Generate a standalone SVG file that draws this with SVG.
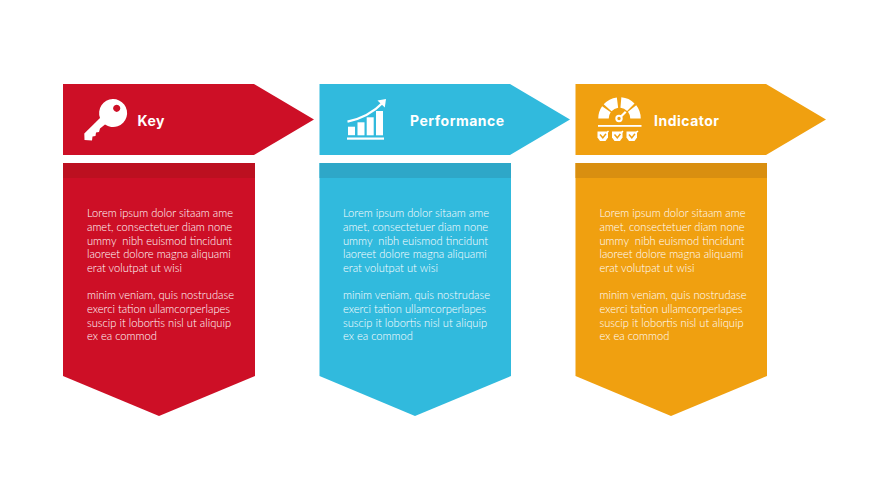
<svg xmlns="http://www.w3.org/2000/svg" width="889" height="500" viewBox="0 0 889 500">
<style>
.t{font-family:"Inter","Open Sans","Liberation Sans",sans-serif;font-weight:700;font-size:14px;letter-spacing:.5px;fill:#fff}
.b{font-family:"Lato","Open Sans","Liberation Sans",sans-serif;font-weight:300;font-size:11.15px;fill:#fff;white-space:pre}
.i{fill:#fff}
.s{fill:none;stroke:#fff}
.c{fill:none;stroke:#f0a010;stroke-width:1.4}
</style>
<rect width="889" height="500" fill="#fff"/>
<g id="node-key">
<path d="M63 84H254L314 119.500L254 155H63Z" fill="#cd0f26"/>
<path d="M63 163H255V376L159 416L63 376Z" fill="#cd0f26"/>
<rect x="63" y="163" width="192" height="15" fill="#bc1020"/>
<path class="i" fill-rule="evenodd" d="M100 118L84.300 133.500L84.500 140L92 140.500L92.500 136.500L95.500 136L96 132.500L99 132L100 128.500L105 124.500A14 14 0 1 0 100 118ZM116.700 104.700A3.600 3.600 0 1 1 116.699 104.700Z"/>
<text class="t" x="137.500" y="126">Key</text>
<text class="b" x="87" y="217">Lorem ipsum dolor sitaam ame</text>
<text class="b" x="87" y="231">amet, consectetuer diam none</text>
<text class="b" x="87" y="244.500">ummy  nibh euismod tincidunt</text>
<text class="b" x="87" y="258">laoreet dolore magna aliquami</text>
<text class="b" x="87" y="272">erat volutpat ut wisi</text>
<text class="b" x="87" y="299">minim veniam, quis nostrudase</text>
<text class="b" x="87" y="313">exerci tation ullamcorperlapes</text>
<text class="b" x="87" y="326.500">suscip it lobortis nisl ut aliquip</text>
<text class="b" x="87" y="340">ex ea commod</text>
</g>
<g id="node-performance">
<path d="M319.500 84H510L570 119.500L510 155H319.500Z" fill="#31badd"/>
<path d="M319.500 163H511V376L415 416L319.500 376Z" fill="#31badd"/>
<rect x="319.500" y="163" width="191.500" height="15" fill="#2ea7c8"/>
<rect class="i" x="347" y="137.500" width="37" height="2.200"/>
<rect class="i" x="348" y="126.700" width="7" height="8.500"/>
<rect class="i" x="357.500" y="122.300" width="7" height="13"/>
<rect class="i" x="366.700" y="117.300" width="7" height="18"/>
<rect class="i" x="376" y="111" width="7" height="24.300"/>
<path class="s" stroke-width="2.300" d="M347.500 121.700Q369 117 383 102.500"/>
<path class="i" d="M377.500 100.500L386 99L384.800 107.500Z"/>
<text class="t" x="410" y="126">Performance</text>
<text class="b" x="343" y="217">Lorem ipsum dolor sitaam ame</text>
<text class="b" x="343" y="231">amet, consectetuer diam none</text>
<text class="b" x="343" y="244.500">ummy  nibh euismod tincidunt</text>
<text class="b" x="343" y="258">laoreet dolore magna aliquami</text>
<text class="b" x="343" y="272">erat volutpat ut wisi</text>
<text class="b" x="343" y="299">minim veniam, quis nostrudase</text>
<text class="b" x="343" y="313">exerci tation ullamcorperlapes</text>
<text class="b" x="343" y="326.500">suscip it lobortis nisl ut aliquip</text>
<text class="b" x="343" y="340">ex ea commod</text>
</g>
<g id="node-indicator">
<path d="M575.500 84H766L826 119.500L766 155H575.500Z" fill="#f0a010"/>
<path d="M575.500 163H767V376L671 416L575.500 376Z" fill="#f0a010"/>
<rect x="575.500" y="163" width="191.500" height="15" fill="#d98f10"/>
<g class="s" stroke-width="10.500">
<path d="M603.500 118.500A16 16 0 0 1 606.400 109.300"/>
<path d="M607.600 107.800A16 16 0 0 1 617.500 102.600"/>
<path d="M620.900 102.600A16 16 0 0 1 630.800 107.200"/>
<path d="M632.100 108.600A16 16 0 0 1 635.500 118.500"/>
</g>
<circle class="s" cx="619" cy="118.500" r="2.700" stroke-width="2"/>
<path class="s" stroke-width="2.200" d="M621 116.500L625.700 111.700"/>
<rect class="i" x="598" y="125" width="43.500" height="1.800"/>
<g class="i">
<path d="M597.500 131.500H608V137.500L605.500 141H600L597.500 137.500Z"/>
<path d="M612 131.500H622.500V137.500L620 141H614.500L612 137.500Z"/>
<path d="M626.500 131.500H637V137.500L634.500 141H629L626.500 137.500Z"/>
</g>
<g class="c">
<path d="M600 134.500L602.800 137.800L606 133.800"/>
<path d="M614.500 134.500L617.300 137.800L620.500 133.800"/>
<path d="M629 134.500L631.800 137.800L635 133.800"/>
</g>
<g class="s" stroke-width="1.400">
<path d="M606 133.800L608.500 131"/>
<path d="M620.500 133.800L623 131"/>
<path d="M635 133.800L638 131"/>
</g>
<text class="t" x="654" y="126">Indicator</text>
<text class="b" x="599.500" y="217">Lorem ipsum dolor sitaam ame</text>
<text class="b" x="599.500" y="231">amet, consectetuer diam none</text>
<text class="b" x="599.500" y="244.500">ummy  nibh euismod tincidunt</text>
<text class="b" x="599.500" y="258">laoreet dolore magna aliquami</text>
<text class="b" x="599.500" y="272">erat volutpat ut wisi</text>
<text class="b" x="599.500" y="299">minim veniam, quis nostrudase</text>
<text class="b" x="599.500" y="313">exerci tation ullamcorperlapes</text>
<text class="b" x="599.500" y="326.500">suscip it lobortis nisl ut aliquip</text>
<text class="b" x="599.500" y="340">ex ea commod</text>
</g>
<g id="connectors"></g>
</svg>
